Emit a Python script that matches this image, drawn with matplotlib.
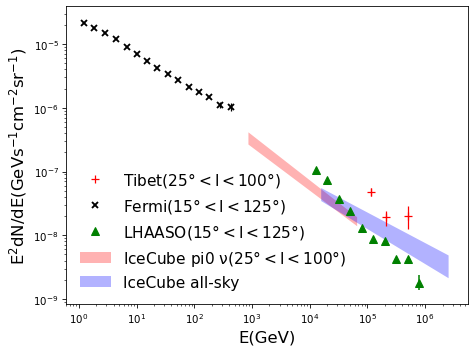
import numpy as np
import matplotlib
matplotlib.use('Agg')
import matplotlib.pyplot as plt

# Fermi (15 < l < 125)
fermi_e = [1.22, 1.86, 2.88, 4.37, 6.76, 10.0, 15.1, 22.9, 34.7, 52.5, 81.3, 120.0, 182.0, 275.0, 427.0]
fermi_f = [2.14e-5, 1.77e-5, 1.49e-5, 1.2e-5, 9.1e-6, 7.0e-6, 5.4e-6, 4.25e-6, 3.35e-6,
           2.7e-6, 2.1e-6, 1.8e-6, 1.48e-6, 1.1e-6, 1.03e-6]
fermi_err = [0, 0, 0, 0, 0, 0, 0, 0, 0, 0, 0, 0, 0, 0.12e-6, 0.14e-6]

# Tibet (25 < l < 100)
tibet_e = [1.15e5, 2.14e5, 5.13e5]
tibet_f = [4.8e-8, 1.9e-8, 2.0e-8]
tibet_lo = [0.6e-8, 0.5e-8, 0.77e-8]
tibet_hi = [0.7e-8, 0.5e-8, 0.85e-8]

# LHAASO (15 < l < 125)
lhaaso_e = [1.26e4, 2.0e4, 3.16e4, 5.01e4, 7.94e4, 1.26e5, 2.0e5, 3.16e5, 5.01e5, 7.94e5]
lhaaso_f = [1.05e-7, 7.4e-8, 3.7e-8, 2.4e-8, 1.29e-8, 8.7e-9, 8.1e-9, 4.26e-9, 4.26e-9, 1.8e-9]
lhaaso_lo = [0, 0, 0, 0, 0, 0, 0, 0, 0, 0.4e-9]
lhaaso_hi = [0, 0, 0, 0, 0, 0, 0, 0, 0, 0.6e-9]

# IceCube bands
pi0_e = [8.5e2, 6.5e4]
pi0_lo = [2.7e-7, 1.41e-8]
pi0_hi = [4.2e-7, 1.95e-8]

sky_e = [1.55e4, 2.5e6]
sky_lo = [3.5e-8, 2.15e-9]
sky_hi = [5.6e-8, 4.9e-9]

fig = plt.figure(figsize=(6.4, 4.82), dpi=74.0625)
ax = fig.add_axes([0.139, 0.1457, 0.848, 0.835])

# error bars drawn separately so the legend shows bare markers
ax.errorbar(tibet_e, tibet_f, yerr=[tibet_lo, tibet_hi], fmt='none', ecolor='r', elinewidth=1.2)
ax.errorbar(fermi_e, fermi_f, yerr=fermi_err, fmt='none', ecolor='k', elinewidth=1.2)
ax.errorbar(lhaaso_e, lhaaso_f, yerr=[lhaaso_lo, lhaaso_hi], fmt='none', ecolor='g', elinewidth=1.5)

ax.plot(tibet_e, tibet_f, 'r+', ms=7, mew=1.2, label='Tibet(25°$<$l$<$100°)')
ax.plot(fermi_e, fermi_f, 'kx', ms=6, mew=1.8, label='Fermi(15°$<$l$<$125°)')
ax.plot(lhaaso_e, lhaaso_f, 'g^', ms=8.5, label='LHAASO(15°$<$l$<$125°)')
ax.fill_between(pi0_e, pi0_lo, pi0_hi, color='r', alpha=0.3, lw=0,
                label='IceCube pi0 \u03bd(25°$<$l$<$100°)')
ax.fill_between(sky_e, sky_lo, sky_hi, color='b', alpha=0.3, lw=0,
                label='IceCube all-sky')

ax.set_xscale('log')
ax.set_yscale('log')
ax.set_xlim(10**-0.225, 10**6.74)
ax.set_ylim(10**-9.08, 10**-4.40)
ax.set_xlabel('E(GeV)', fontsize=16)
ax.set_ylabel('E$^2$dN/dE(GeVs$^{-1}$cm$^{-2}$sr$^{-1}$)', fontsize=16)

ax.legend(loc='lower left', frameon=False, fontsize=15, labelspacing=0.45)

fig.savefig('out.png', dpi=74.0625)
